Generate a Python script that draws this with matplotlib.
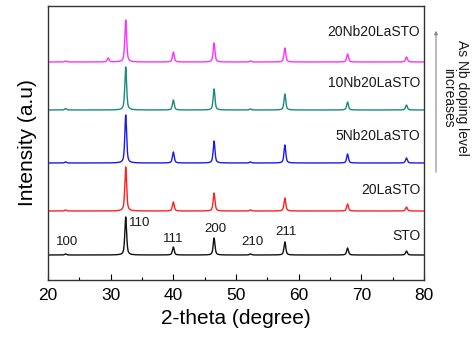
import numpy as np
import matplotlib
matplotlib.use("Agg")
import matplotlib.pyplot as plt

plt.rcParams['font.family'] = ['Liberation Sans', 'DejaVu Sans']

# Peak positions (2-theta) and heights (a.u.)
peak_pos = [22.8, 32.4, 40.0, 46.5, 52.3, 57.8, 67.8, 77.2]
sto_h = [1.0, 38, 8, 17, 1.0, 13, 7, 4]
la_h = [1.0, 44, 9, 18, 1.0, 13, 7, 4]
nb5_h = [1.0, 48, 11, 22, 1.0, 18, 9, 5]
nb10_h = [1.5, 43, 10, 21, 1.0, 16, 8, 5]
nb20_h = [1.0, 42, 10, 19, 1.0, 14, 8, 5]
extra_pos = 29.6
extra_h = 4
offsets = [25, 69, 117, 170, 218]
names = ["STO", "20LaSTO", "5Nb20LaSTO", "10Nb20LaSTO", "20Nb20LaSTO"]
colors = ["#111111", "#ff2020", "#1a1aee", "#1a8a7a", "#ff30ff"]
label_y = [44, 90, 144, 197, 248]
hkl = ["100", "110", "111", "200", "210", "211"]
hkl_x = [23.0, 34.7, 39.9, 46.7, 52.7, 58.0]
hkl_y = [38, 57, 41, 51, 38, 48]

x = np.linspace(20, 80, 6001)

def peak(p, h, w=0.17):
    lor = 1 / (1 + ((x - p) / w) ** 2)
    gau = np.exp(-np.log(2) * ((x - p) / w) ** 2)
    return h * (0.6 * lor + 0.4 * gau)

def profile(pos, heights, extra=None):
    y = np.zeros_like(x)
    for p, h in zip(pos, heights):
        y += peak(p, h)
    if extra is not None:
        y += peak(extra[0], extra[1])
    return y

fig = plt.figure(figsize=(4.74, 3.48), dpi=100)
ax = fig.add_axes([0.1013, 0.1954, 0.7932, 0.7874])

series = [sto_h, la_h, nb5_h, nb10_h, nb20_h]
for i, h in enumerate(series):
    extra = (extra_pos, extra_h) if i == 4 else None
    ax.plot(x, profile(peak_pos, h, extra) + offsets[i], color=colors[i], lw=1.0)
    ax.text(79.4, label_y[i], names[i], ha='right', va='center', fontsize=10, color='#1a1a1a')

for t, xx, yy in zip(hkl, hkl_x, hkl_y):
    ax.text(xx, yy, t, ha='center', va='center', fontsize=9.5, color='#1a1a1a')

ax.set_xlim(20, 80)
ax.set_ylim(0, 274)
ax.set_yticks([])
ax.set_xticks(np.arange(20, 81, 10))
ax.set_xticks(np.arange(25, 80, 10), minor=True)
ax.tick_params(axis='x', direction='in', length=4, width=0.8, labelsize=12.5, pad=6)
ax.tick_params(axis='x', which='minor', direction='in', length=2.5, width=0.8)
for s in ax.spines.values():
    s.set_linewidth(1.0)
    s.set_color('#333333')
ax.set_xlabel("2-theta (degree)", fontsize=15, labelpad=4)
ax.set_ylabel("Intensity (a.u)", fontsize=15, labelpad=8)

# Arrow and annotation on the right
fig.patches.append(matplotlib.patches.FancyArrowPatch(
    (436 / 474, 1 - 175 / 348), (436 / 474, 1 - 28 / 348),
    transform=fig.transFigure, arrowstyle='-|>', mutation_scale=5,
    color='#888888', lw=0.8))
fig.text(455 / 474, 1 - 98 / 348, "As Nb doping level\nincreases", rotation=-90,
         ha='center', va='center', fontsize=10, color='#1a1a1a', linespacing=1.05)

fig.savefig("out.png", dpi=100)
